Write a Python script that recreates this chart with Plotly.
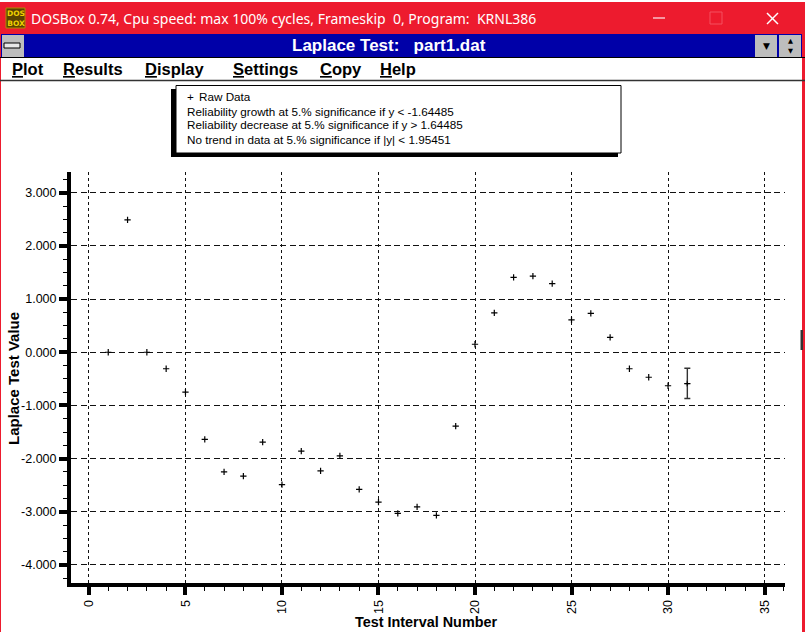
import plotly.graph_objects as go

W = 805
H = 632

interval = list(range(1, 32))
laplace = [0.0, 2.49, 0.0, -0.31, -0.75, -1.64, -2.25, -2.33, -1.69, -2.49,
           -1.86, -2.23, -1.95, -2.58, -2.82, -3.03, -2.91, -3.07, -1.39, 0.15,
           0.74, 1.41, 1.43, 1.29, 0.61, 0.73, 0.28, -0.31, -0.47, -0.63, -0.59]
err_x = [31]
err_y = [-0.59]
err_up = [0.29]
err_down = [0.28]

x_ticks = [0, 5, 10, 15, 20, 25, 30, 35]
y_ticks = [3, 2, 1, 0, -1, -2, -3, -4]
y_labels = ["3.000", "2.000", "1.000", "0.000", "-1.000", "-2.000", "-3.000", "-4.000"]

legend_lines = ["Reliability growth at 5.% significance if y < -1.64485",
                "Reliability decrease at 5.% significance if y > 1.64485",
                "No trend in data at 5.% significance if |y| < 1.95451"]
menu_items = [("Plot", 10), ("Results", 61), ("Display", 143), ("Settings", 231), ("Copy", 318), ("Help", 378)]

RED = "#ED1B2E"
BLUE = "#0000A8"
GREY = "#BDBDBD"
FONT = "Liberation Sans"


def px(x):
    return x / W


def py(y):
    return 1 - y / H


def rect(x0, y0, x1, y1, fill, line=None, lw=1):
    return dict(type="rect", xref="paper", yref="paper", x0=px(x0), x1=px(x1), y0=py(y0), y1=py(y1),
                fillcolor=fill, line=dict(color=line or fill, width=lw if line else 0), layer="below")


def seg(x0, y0, x1, y1, color, lw=1.5):
    return dict(type="line", xref="paper", yref="paper", x0=px(x0), x1=px(x1), y0=py(y0), y1=py(y1),
                line=dict(color=color, width=lw))


def label(x, y, text, size, color="black", anchor="left", angle=0, font=FONT):
    return dict(xref="paper", yref="paper", x=px(x), y=py(y), text=text, showarrow=False, xanchor=anchor,
                yanchor="middle", textangle=angle, font=dict(family=font, size=size, color=color))


fig = go.Figure()

fig.add_trace(go.Scatter(x=interval, y=laplace, mode="markers", showlegend=False,
                         marker=dict(symbol="cross-thin", size=4.5, line=dict(color="black", width=1.2))))
fig.add_trace(go.Scatter(x=err_x, y=err_y, mode="markers", showlegend=False,
                         marker=dict(symbol="cross-thin", size=3, line=dict(color="black", width=1)),
                         error_y=dict(type="data", symmetric=False, array=err_up, arrayminus=err_down,
                                      color="#333333", thickness=1.4, width=3)))

shapes = [
    rect(0, 2, W, 34, RED),
    rect(0, 34, W, 57, BLUE),
    rect(2, 35, 24, 57, GREY),
    rect(4, 43, 20, 48, "#E8E8E8", "black"),
    rect(755, 35, 777, 57, GREY),
    rect(779, 35, 801, 57, GREY),
    seg(0, 57.5, W, 57.5, "black", 1),
    seg(0, 80.5, W, 80.5, "#333333", 1.5),
    rect(0, 34, 1, H, RED),
    rect(802, 34, W, H, RED),
    rect(800.5, 330, 803, 350, "#333333"),
    rect(6, 8, 25, 28, "#5A4200", "#B08C00"),
    rect(710, 12, 722, 24, RED, "#F4505E"),
    seg(653, 18, 665, 18, "#F8C0C8", 1.5),
    seg(767, 13, 778, 24, "white", 1.5),
    seg(778, 13, 767, 24, "white", 1.5),
    rect(171, 89, 618, 157, "black"),
    rect(176, 85.5, 621, 153, "white", "black"),
]

annotations = [
    label(5, 18, "<b>DOS<br>BOX</b>", 7.5, "#F0D000", font="DejaVu Sans"),
    label(29, 18, "DOSBox 0.74, Cpu speed: max 100% cycles, Frameskip  0, Program:  KRNL386", 14, "white",
          font="Noto Sans"),
    label(389, 46, "<b>Laplace Test:   part1.dat</b>", 17, "white", "center", font="Liberation Sans"),
    label(766, 46, "▼", 9, "black", "center", font="DejaVu Sans"),
    label(790, 41, "▲", 6.5, "black", "center", font="DejaVu Sans"),
    label(790, 51, "▼", 6.5, "black", "center", font="DejaVu Sans"),
    label(185, 96, "+", 11.7),
    label(197, 96, "Raw Data", 11.7),
    label(185, 111, legend_lines[0], 11.7),
    label(185, 125, legend_lines[1], 11.7),
    label(185, 140, legend_lines[2], 11.7),
    label(13, 379, "<b>Laplace Test Value</b>", 15, anchor="center", angle=-90),
    label(425.5, 622, "<b>Test Interval Number</b>", 14.4, anchor="center"),
]
for name, x in menu_items:
    annotations.append(label(x, 69, "<b><u>%s</u>%s</b>" % (name[0], name[1:]), 16.5, font="Liberation Sans"))

fig.update_layout(
    width=W, height=H, margin=dict(l=0, r=0, t=0, b=0), paper_bgcolor="white", plot_bgcolor="white",
    shapes=shapes, annotations=annotations, showlegend=False,
    font=dict(family=FONT, size=12.5, color="black"),
    xaxis=dict(domain=[px(71), px(785)], range=[-0.93, 36.06], tickvals=x_ticks, tickangle=-90,
               showgrid=True, gridcolor="#111111", gridwidth=1, griddash="3px,3px", zeroline=False,
               showline=True, linecolor="black", linewidth=4, ticks="outside", ticklen=8, tickwidth=3.5,
               tickcolor="black", minor=dict(dtick=1, ticks="outside", ticklen=4, tickwidth=1, tickcolor="black",
                                             showgrid=False)),
    yaxis=dict(domain=[py(583), py(172)], range=[-4.34, 3.39], tickvals=y_ticks, ticktext=y_labels,
               showgrid=True, gridcolor="#111111", gridwidth=1, griddash="6px,3.5px", zeroline=False,
               showline=True, linecolor="black", linewidth=4, ticks="outside", ticklen=8, tickwidth=3.5,
               tickcolor="black", minor=dict(dtick=0.25, ticks="outside", ticklen=4, tickwidth=1, tickcolor="black",
                                             showgrid=False)),
)

fig.write_html("out.html", config={"displayModeBar": False}, post_script="document.body.style.margin='0';")
